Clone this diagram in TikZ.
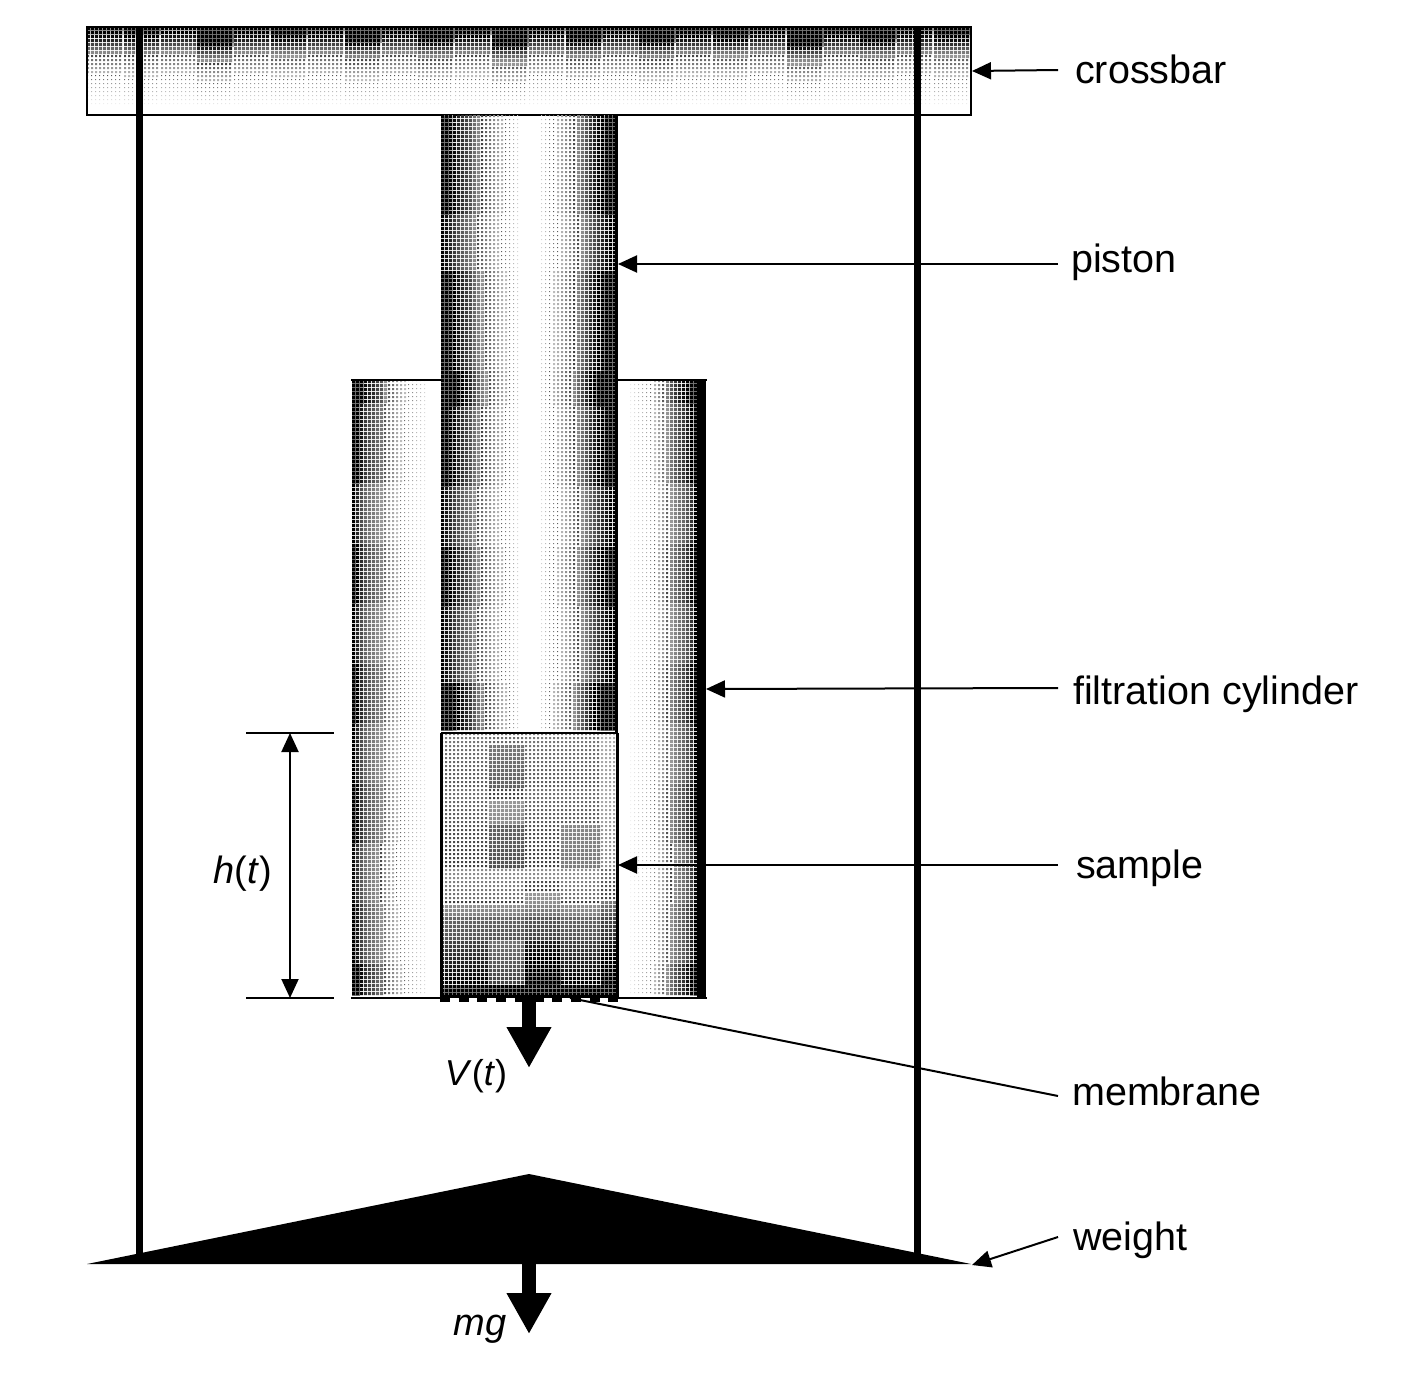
\documentclass[tikz,border=0pt]{standalone}
\usepackage{fontspec}
\setmainfont{Liberation Sans}
\usetikzlibrary{arrows.meta}
\newdimen\dcx \newdimen\dcy \newdimen\dcs \newdimen\dcstep \newdimen\dcend
\newif\ifdcgo
\def\dcmore{\dcgotrue}
\def\dcless{\dcgofalse}
\newcommand{\dotrun}{%
  \loop
    \pgfpathrectangle{\pgfqpoint{\dcx}{\dcy}}{\pgfqpoint{\dcs}{-\dcs}}%
    \ifnum\dchoriz=1 \advance\dcx by \dcstep \else \advance\dcy by -\dcstep \fi
    \ifnum\dchoriz=1 \ifdim\dcx<\dcend\dcmore\else\dcless\fi \else \ifdim\dcy>\dcend\dcmore\else\dcless\fi \fi
  \ifdcgo\repeat
  \pgfusepath{fill}}
% one row or column of halftone dots on a 4 unit grid: x1,y1,x2,y2,darkness
\newcommand{\dotline}[5]{%
  \pgfmathsetmacro\dotd{min(.88,#5)}%
  \ifdim\dotd pt>0.006pt
  \begin{pgfscope}%
    \ifdim#2pt=#4pt
      \def\dchoriz{1}%
      \pgfmathsetmacro\ha{#1}\pgfmathsetmacro\hb{#2-2}%
      \pgfmathsetmacro\hc{#3-#1}\pgfmathsetmacro\hd{4}%
    \else
      \def\dchoriz{0}%
      \pgfmathsetmacro\ha{#1-2}\pgfmathsetmacro\hb{#2}%
      \pgfmathsetmacro\hc{4}\pgfmathsetmacro\hd{#4-#2}%
    \fi
    \ifdim\dotd pt>0.75pt
      \pgfmathsetmacro\bgp{100*(\dotd-.75)/.25}%
      \pgfsetfillcolor{black!\bgp}%
      \pgfpathrectangle{\pgfqpoint{\ha pt}{-\hb pt}}{\pgfqpoint{\hc pt}{-\hd pt}}\pgfusepath{fill}%
      \def\dotsz{3}\def\fgp{100}%
    \else
      \ifdim\dotd pt>0.3pt \def\dotsz{3}\pgfmathsetmacro\fgp{100*\dotd/.75}%
      \else\ifdim\dotd pt>0.1pt \def\dotsz{2}\pgfmathsetmacro\fgp{100*\dotd/.4}%
      \else \def\dotsz{1}\pgfmathsetmacro\fgp{100*\dotd/.15}\fi\fi
    \fi
    \pgfsetfillcolor{black!\fgp}%
    \dcs=\dotsz pt \dcstep=4pt
    \dcx=\ha pt \dcy=-\hb pt
    \ifnum\dchoriz=1 \dcend=#3pt \advance\dcend by -\dotsz pt \else \dcend=-#4pt \advance\dcend by \dotsz pt \fi
    \dotrun
  \end{pgfscope}%
  \fi}
\newcommand{\pistlist}{.95,.88,.8,.72,.65,.6,.55,.5,.42,.35,.3,.25,.22,.18,.15,.12,.1,.08,.05,.03,0,0,0,0,0,.03,.05,.08,.1,.12,.15,.18,.22,.28,.35,.42,.5,.58,.65,.72,.8,.88,.95,1}
\newcommand{\cylLlist}{.95,.8,.65,.55,.5,.48,.42,.38,.25,.2,.17,.13,.1,.08,.06,.05,.04,.03,.02,0,0,0}
\newcommand{\cylRlist}{0,0,0,.01,.02,.03,.04,.05,.07,.1,.14,.2,.3,.38,.45,.5,.55,.62,.75,.95,1,1}
\newcommand{\barlist}{.85,.8,.72,.65,.55,.45,.35,.28,.22,.2,.16,.12,.1,.08,.06,.05,.04,.03,.02,.01,0,0}
\tikzset{
  x=1pt,y=-1pt,
  lbl/.style={anchor=base west,inner sep=0pt,font=\fontsize{39.5}{45}\selectfont},
  mathlbl/.style={anchor=base,inner sep=0pt,font=\fontsize{38}{45}\selectfont},
  leader/.style={line width=2pt,-{Triangle[length=19pt,width=17pt]}},
  dimline/.style={line width=2pt,{Triangle[length=19pt,width=17pt]}-{Triangle[length=19pt,width=17pt]}},
  thin rule/.style={line width=2pt},
  rod/.style={line width=6.5pt},
  edge/.style={line width=3pt},
  flow/.style={line width=14pt,-{Triangle[length=41pt,width=42pt,inset=0pt]}},
}
\begin{document}
\begin{tikzpicture}
\useasboundingbox (0,0) rectangle (1409,1376);
% named points
\coordinate (barTL) at (87,27);
\coordinate (barBR) at (971,115);
\coordinate (barE) at (972,71);
\coordinate (pisE) at (618,264);
\coordinate (cylE) at (706,689);
\coordinate (smpE) at (618,865);
\coordinate (memE) at (570,998);
\coordinate (wgtE) at (972,1265);
\coordinate (endBar) at (1058,70);
\coordinate (endPis) at (1058,264);
\coordinate (endCyl) at (1058,688);
\coordinate (endSmp) at (1058,865);
\coordinate (endMem) at (1058,1096);
\coordinate (endWgt) at (1058,1237);
% crossbar: 24 blocks, 22 rows
\foreach \f [count=\c from 0] in {1,1.05,.95,1.5,1,1.1,1,1.3,1,1.25,1.05,1.55,1,1.25,1,1.3,1.05,1.15,1,1.55,1.05,1.25,1,1.1}{
  \pgfmathsetmacro\xa{87+round(36.8333*\c)}
  \pgfmathsetmacro\xb{87+round(36.8333*(\c+1))}
  \foreach \b [count=\r from 0] in \barlist {
    \pgfmathsetmacro\yc{27+4*\r+2}
    \dotline{\xa}{\yc}{\xb}{\yc}{\b*\f}
  }
}
\draw[thin rule] (barTL) rectangle (barBR);
% rods
\draw[rod] (139.5,27) -- (139.5,1255);
\draw[rod] (917.5,27) -- (917.5,1255);
% cylinder walls
\foreach \ya/\yb/\f in {380/404/1.3,404/484/1.05,484/544/.8,544/604/.95,604/664/.8,664/724/.95,724/784/.8,784/844/.9,844/904/.75,904/964/.85,964/996/1.1}{
  \foreach \b [count=\c from 0] in \cylLlist {
    \pgfmathsetmacro\xc{352+4*\c+2}
    \dotline{\xc}{\ya}{\xc}{\yb}{\b*\f}
  }
  \foreach \b [count=\c from 0] in \cylRlist {
    \pgfmathsetmacro\xc{618+4*\c+2}
    \dotline{\xc}{\ya}{\xc}{\yb}{\b*\f}
  }
}
\fill (697,380) rectangle (706,998);
\draw[line width=2pt] (351,380) -- (441,380) (617,380) -- (707,380);
\draw[line width=2pt] (351,998) -- (441,998) (617,998) -- (707,998);
% piston
\foreach \ya/\yb/\f in {115/215/1,215/271/.8,271/371/1.05,371/407/1.25,407/487/1,487/547/.78,547/607/.95,607/683/.8,683/731/1.15}{
  \foreach \b [count=\c from 0] in \pistlist {
    \pgfmathsetmacro\xc{441+4*\c+2}
    \dotline{\xc}{\ya}{\xc}{\yb}{\b*\f}
  }
}
\draw[line width=3pt] (616,115) -- (616,733);
% sample: bands with start, end, darkness at both, factor per block column
\foreach \ya/\yb/\da/\db/\fa/\fb/\fc/\fd/\fe in {
  733/745/.2/.22/1/1.1/1/1/.6,
  745/789/.22/.26/1/1.8/1/1/.6,
  789/825/.22/.26/1/1.3/1/1/.6,
  825/869/.27/.3/1/1.7/1/1.3/.6,
  869/881/.18/.18/1/1/1/1/1.3,
  881/901/.2/.23/1/1/1.4/1/1.3,
  901/917/.3/.4/1/1/1.1/1/1.3,
  917/941/.45/.5/1/1/1.1/1/1.2,
  941/985/.55/.75/1/.75/1.2/1/1.2,
  985/997/.85/.95/1/1/1/1/1}{
  \pgfmathtruncatemacro\rows{(\yb-\ya)/4-1}
  \foreach \r in {0,...,\rows}{
    \pgfmathsetmacro\yc{\ya+4*\r+2}
    \pgfmathsetmacro\dv{\da+(\db-\da)*(4*\r)/(\yb-\ya)}
    \dotline{441}{\yc}{489}{\yc}{\dv*\fa}
    \dotline{489}{\yc}{525}{\yc}{\dv*\fb}
    \dotline{525}{\yc}{561}{\yc}{\dv*\fc}
    \dotline{561}{\yc}{601}{\yc}{\dv*\fd}
    \dotline{601}{\yc}{617}{\yc}{\dv*\fe}
  }
}
\draw[line width=2pt] (441,733) -- (617,733);
\draw[edge] (441,733) -- (441,998) (617,733) -- (617,998);
% membrane
\draw[line width=3.5pt] (439.5,996.5) -- (618.5,996.5);
\draw[line width=4.5pt,dash pattern=on 10pt off 8.7pt] (440,1000) -- (618,1000);
% flow arrow
\coordinate (flowTop) at (529,998);
\coordinate (flowTip) at (529,1068);
\draw[flow] (flowTop) -- (flowTip);
% weight
\fill (87,1264) -- (529,1174) -- (971,1264) -- cycle;
\coordinate (mgTop) at (529,1262);
\coordinate (mgTip) at (529,1334);
\draw[flow] (mgTop) -- (mgTip);
% dimension
\coordinate (dimT) at (246,733);
\coordinate (dimTe) at (334,733);
\coordinate (dimB) at (246,998);
\coordinate (dimBe) at (334,998);
\coordinate (dimAT) at (290,733);
\coordinate (dimAB) at (290,998);
\draw[thin rule] (dimT) -- (dimTe);
\draw[thin rule] (dimB) -- (dimBe);
\draw[dimline] (dimAT) -- (dimAB);
% leaders
\draw[leader] (endBar) -- (barE);
\draw[leader] (endPis) -- (pisE);
\draw[leader] (endCyl) -- (cylE);
\draw[leader] (endSmp) -- (smpE);
\draw[line width=2pt] (endMem) -- (memE);
\draw[leader] (endWgt) -- (wgtE);
% labels
\node[lbl] (lbar) at (1075,83) {crossbar};
\node[lbl] (lpis) at (1071,272) {piston};
\node[lbl] (lcyl) at (1073,704) {filtration cylinder};
\node[lbl] (lsmp) at (1076,878) {sample};
\node[lbl] (lmem) at (1072,1105) {membrane};
\node[lbl] (lwgt) at (1073,1250) {weight};
\node[mathlbl] (lh) at (243,883) {\textit{h}(\textit{t})};
\node[mathlbl,font=\fontsize{36}{45}\selectfont] (lv) at (476,1085) {\textit{V}(\textit{t})};
\node[mathlbl] (lm) at (480,1335) {\textit{mg}};
\end{tikzpicture}
\end{document}
